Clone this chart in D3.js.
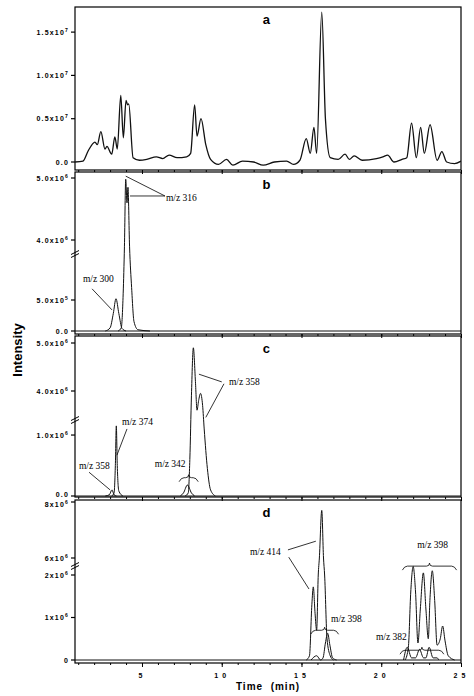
<!DOCTYPE html>
<html>
<head>
<meta charset="utf-8">
<script src="https://cdn.jsdelivr.net/npm/d3@7"></script>
<style>
  body { margin: 0; background: #fff; }
  .tick text, .ylab { font-family: "Liberation Sans", Arial, sans-serif; font-weight: bold; font-size: 7px; letter-spacing: 1.2px; }
  .ann { font-family: "Liberation Serif", "DejaVu Serif", serif; font-size: 9.5px; }
</style>
</head>
<body>
<div class="chart"></div>
<script>
// time in min, intensity in units of 1e6
var traceA = [[0.8,0],[1.3,0.1],[1.63,1.3],[2.05,2.3],[2.2,2.0],[2.42,3.5],[2.68,1.5],[2.8,1.8],[3.1,0.9],[3.3,2.9],[3.45,1.5],[3.67,7.7],[3.83,2.8],[4.0,7.1],[4.1,6.6],[4.17,6.7],[4.44,0.5],[4.84,0.2],[5.3,0.3],[5.9,0.6],[6.3,0.4],[6.7,0.8],[7.2,0.5],[7.8,0.6],[8.05,1.0],[8.3,6.6],[8.45,3.0],[8.7,5.0],[9.0,2.0],[9.3,0.3],[9.8,-0.3],[10.3,0.3],[10.7,-0.4],[11.3,0.1],[12.0,0.0],[12.6,-0.4],[13.3,0.0],[14.07,0.1],[14.5,-0.3],[14.9,0.2],[15.3,2.7],[15.55,1.0],[15.78,4.0],[15.95,1.0],[16.27,17.3],[16.5,5.0],[16.8,0.5],[17.3,0.3],[17.73,0.9],[18.0,0.3],[18.3,0.7],[18.8,0.2],[19.7,0.4],[20.1,0.6],[20.4,0.8],[20.8,0.0],[21.3,0.3],[21.6,0.5],[21.9,4.5],[22.2,0.5],[22.47,4.0],[22.7,1.0],[23.06,4.3],[23.5,0.2],[23.8,1.2],[24.1,0.0],[24.6,-0.2],[25,0.1]];

var traceB300 = [[2.7,0],[3.0,0.05],[3.2,0.28],[3.37,0.52],[3.55,0.28],[3.75,0.04],[4.0,0]];
var traceB316 = [[3.5,0],[3.7,0.05],[3.82,0.6],[3.9,3.9],[3.98,4.98],[4.06,4.6],[4.12,4.85],[4.22,3.9],[4.35,0.7],[4.5,0.15],[4.75,0.02],[5.5,0]];

var traceC358a = [[2.7,0],[2.95,0.02],[3.12,0.1],[3.25,0.02],[3.4,0]];
var traceC374 = [[3.1,0],[3.25,0.05],[3.33,0.5],[3.39,1.15],[3.45,0.5],[3.55,0.08],[3.8,0]];
var traceC342 = [[7.4,0],[7.6,0.05],[7.85,0.18],[8.1,0.05],[8.3,0]];
var traceC358b = [[7.7,0],[7.9,0.05],[8.0,0.6],[8.1,3.9],[8.22,4.9],[8.35,4.2],[8.45,3.6],[8.55,3.8],[8.67,3.95],[8.8,3.7],[8.9,1.1],[9.1,0.45],[9.3,0.1],[9.6,0]];

var traceD414 = [[15.3,0],[15.5,0.1],[15.65,1.3],[15.74,1.72],[15.85,1.1],[15.95,0.7],[16.05,2.0],[16.12,6.0],[16.27,7.7],[16.38,6.0],[16.45,2.0],[16.6,0.5],[16.8,0.1],[17.0,0]];
var traceD398a = [[15.6,0],[15.95,0.1],[16.2,0],[16.35,0.05],[16.5,0.4],[16.64,0.63],[16.78,0.35],[16.95,0.05],[17.2,0]];
var traceD398b = [[21.5,0],[21.7,0.3],[21.85,1.6],[22.0,2.2],[22.15,1.6],[22.3,0.4],[22.45,1.2],[22.64,2.05],[22.8,1.2],[22.95,0.5],[23.05,1.4],[23.2,2.1],[23.35,1.4],[23.5,0.35],[23.7,0.5],[23.85,0.8],[24.0,0.45],[24.2,0.1],[24.6,0]];
var traceD382 = [[21.4,0],[21.63,0.3],[21.9,0.05],[22.15,0.05],[22.4,0.25],[22.65,0.05],[22.8,0.05],[23.0,0.3],[23.25,0.05],[23.5,0.05],[23.6,0]];

var xTicks = [5, 10, 15, 20, 25];
var xTickLabels = ["5", "10", "15", "20", "25"];

// y tick values (1e6) and labels [mantissa, exponent]
var ticksA = [0, 5, 10, 15], labelsA = [["0.0",""],["0.5x10","7"],["1.0x10","7"],["1.5x10","7"]];
var ticksB = [0, 0.5, 4, 5], labelsB = [["0.0",""],["5.0x10","5"],["4.0x10","6"],["5.0x10","6"]];
var ticksC = [0, 1, 4, 5], labelsC = [["0.0",""],["1.0x10","6"],["4.0x10","6"],["5.0x10","6"]];
var ticksD = [0, 1, 2, 6, 8], labelsD = [["0",""],["1x10","6"],["2x10","6"],["6x10","6"],["8x10","6"]];

var width = 474, height = 696, left = 75, right = 461;
var svg = d3.select('.chart').append('svg').attr('width', width).attr('height', height);
var x = d3.scaleLinear().domain([0.8, 25]).range([left, right]);

// panels: piecewise y scales with an axis break
var panels = [
  { key: 'a', top: 7, bottom: 170, y: d3.scaleLinear().domain([-1, 0, 17.9]).range([170, 162, 7]), ticks: ticksA, labels: labelsA, brk: null,
    traces: [traceA] },
  { key: 'b', top: 172, bottom: 334, y: d3.scaleLinear().domain([0, 1.2, 3.8, 5.1]).range([331, 256.6, 252.4, 171.8]).clamp(true), ticks: ticksB, labels: labelsB, brk: 254,
    traces: [traceB300, traceB316] },
  { key: 'c', top: 336, bottom: 497, y: d3.scaleLinear().domain([0, 1.25, 3.4, 5.2]).range([496, 419.8, 419.8, 333.4]).clamp(true), ticks: ticksC, labels: labelsC, brk: 420,
    traces: [traceC358a, traceC374, traceC342, traceC358b] },
  { key: 'd', top: 500, bottom: 663, y: d3.scaleLinear().domain([0, 2.2, 5.7, 8.0]).range([660, 566.5, 566.4, 502]).clamp(true), ticks: ticksD, labels: labelsD, brk: 566,
    traces: [traceD414, traceD398a, traceD398b, traceD382] }
];

var line = d3.line().curve(d3.curveMonotoneX);

panels.forEach(function (p, pi) {
  var g = svg.append('g');
  g.append('rect').attr('x', left).attr('y', p.top).attr('width', right - left).attr('height', p.bottom - p.top)
    .attr('fill', 'none').attr('stroke', '#000').attr('stroke-width', 1.2);

  // y ticks
  p.ticks.forEach(function (t, i) {
    var yy = p.y(t);
    g.append('line').attr('x1', left - 4).attr('x2', left).attr('y1', yy).attr('y2', yy).attr('stroke', '#000').attr('stroke-width', 1.2);
    // nudge labels that sit on a panel seam
    var nudge = (pi === 2 && t === 0) ? -2 : (pi === 3 && i === p.ticks.length - 1) ? 2.5 : 0;
    var txt = g.append('text').attr('class', 'ylab').attr('x', left - 6).attr('y', yy + 2.5 + nudge).attr('text-anchor', 'end');
    txt.append('tspan').text(p.labels[i][0]);
    if (p.labels[i][1]) txt.append('tspan').attr('dy', -3).attr('font-size', '5px').text(p.labels[i][1]);
  });
  if (p.brk) {
    [-1.5, 1.5].forEach(function (o) {
      g.append('line').attr('x1', left - 4).attr('x2', left + 4).attr('y1', p.brk + o + 2).attr('y2', p.brk + o - 2)
        .attr('stroke', '#000').attr('stroke-width', 1);
    });
  }

  // x ticks
  var xAxis = d3.axisBottom(x).tickValues(d3.range(1, 26)).tickSize(2).tickFormat('');
  g.append('g').attr('transform', 'translate(0,' + p.bottom + ')').call(xAxis).call(function (a) { a.select('.domain').remove(); });
  var xMajor = d3.axisBottom(x).tickValues(xTicks).tickSize(4)
    .tickFormat(function (d, i) { return pi === 3 ? xTickLabels[i] : ''; });
  var xm = g.append('g').attr('transform', 'translate(0,' + p.bottom + ')').call(xMajor);
  xm.select('.domain').remove();
  xm.selectAll('text').style('letter-spacing', '4px').attr('dy', '1.2em');

  // traces
  var clipId = 'clip' + p.key;
  svg.append('clipPath').attr('id', clipId).append('rect').attr('x', left).attr('y', p.top).attr('width', right - left).attr('height', p.bottom - p.top);
  p.traces.forEach(function (tr) {
    g.append('path').attr('clip-path', 'url(#' + clipId + ')')
      .attr('d', line(tr.map(function (d) { return [x(d[0]), p.y(d[1])]; })))
      .attr('fill', 'none').attr('stroke', '#111').attr('stroke-width', pi === 0 ? 1.3 : 1);
  });
  if (pi > 0) {
    g.append('line').attr('x1', left).attr('x2', right).attr('y1', p.y(0)).attr('y2', p.y(0)).attr('stroke', '#111').attr('stroke-width', 1);
  }

  g.append('text').attr('x', x(12.8)).attr('y', p.top + 17).attr('text-anchor', 'middle')
    .style('font-family', 'Liberation Sans, Arial, sans-serif').style('font-weight', 'bold').style('font-size', '13px').text(p.key);
  p.g = g;
});

// annotations, in data units: [panel, label, t, value]
var annTexts = [[1,'m/z 316',6.5,4.63],[1,'m/z 300',1.3,0.79],[2,'m/z 374',3.75,1.16],[2,'m/z 358',1.05,0.44],[2,'m/z 342',5.8,0.47],
  [2,'m/z 358',10.45,4.12],[3,'m/z 414',11.77,6.1],[3,'m/z 398',16.85,0.89],[3,'m/z 382',19.67,0.47],[3,'m/z 398',22.25,6.36]];
var annLines = [[1,3.98,5.03,6.44,4.71],[1,4.25,4.71,6.44,4.71],[1,1.87,0.68,3.12,0.34],[2,4.06,1.1,3.43,0.67],[2,1.68,0.39,3.0,0.1],
  [2,8.57,4.35,10.0,4.19],[2,9.0,3.45,10.14,4.15],[3,14.15,6.29,15.9,6.6],[3,14.2,6.03,15.47,1.67]];
// brackets: [panel, t0, t1, value]
var annBrackets = [[2,7.45,8.4,0.3],[3,15.7,17.2,0.7],[3,21.3,23.8,0.23],[3,21.45,24.6,5.71]];

annTexts.forEach(function (a) {
  var p = panels[a[0]];
  p.g.append('text').attr('class', 'ann').attr('x', x(a[2])).attr('y', p.y(a[3])).text(a[1]);
});
annLines.forEach(function (a) {
  var p = panels[a[0]];
  p.g.append('line').attr('x1', x(a[1])).attr('y1', p.y(a[2])).attr('x2', x(a[3])).attr('y2', p.y(a[4]))
    .attr('stroke', '#000').attr('stroke-width', 0.8);
});
annBrackets.forEach(function (a) {
  var p = panels[a[0]], x0 = x(a[1]), x1 = x(a[2]), yy = p.y(a[3]), xm = (x0 + x1) / 2;
  p.g.append('path').attr('d', 'M' + (x0 - 2) + ',' + (yy + 4) + 'Q' + x0 + ',' + yy + ' ' + (x0 + 3) + ',' + yy +
      'L' + (xm - 3) + ',' + yy + 'Q' + xm + ',' + yy + ' ' + xm + ',' + (yy - 3) + 'Q' + xm + ',' + yy + ' ' + (xm + 3) + ',' + yy +
      'L' + (x1 - 3) + ',' + yy + 'Q' + x1 + ',' + yy + ' ' + (x1 + 2) + ',' + (yy + 4))
    .attr('fill', 'none').attr('stroke', '#000').attr('stroke-width', 0.8);
});

svg.append('text').attr('transform', 'translate(22,350) rotate(-90)').attr('text-anchor', 'middle')
  .style('font-family', 'Liberation Sans, Arial, sans-serif').style('font-weight', 'bold').style('font-size', '13px').text('Intensity');
svg.append('text').attr('x', 268).attr('y', 690).attr('text-anchor', 'middle').attr('xml:space', 'preserve')
  .style('font-family', 'Liberation Sans, Arial, sans-serif').style('font-weight', 'bold').style('font-size', '10px').style('letter-spacing', '1px').text('Time  (min)');
</script>
</body>
</html>
